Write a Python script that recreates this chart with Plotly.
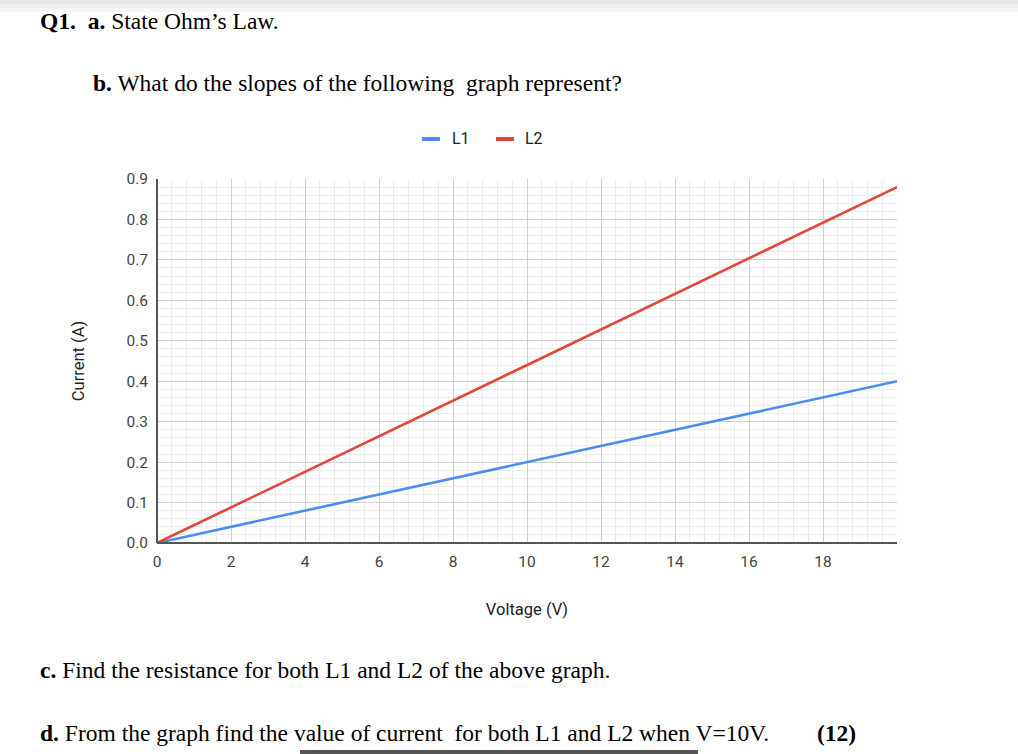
import plotly.graph_objects as go

voltage = [0, 2, 4, 6, 8, 10, 12, 14, 16, 18, 20]
current_l1 = [0, 0.04, 0.08, 0.12, 0.16, 0.20, 0.24, 0.28, 0.32, 0.36, 0.40]
current_l2 = [0, 0.088, 0.176, 0.264, 0.352, 0.44, 0.528, 0.616, 0.704, 0.792, 0.88]
x_ticks = [0, 2, 4, 6, 8, 10, 12, 14, 16, 18]
y_ticks = [0.0, 0.1, 0.2, 0.3, 0.4, 0.5, 0.6, 0.7, 0.8, 0.9]
y_tick_text = ["0.0", "0.1", "0.2", "0.3", "0.4", "0.5", "0.6", "0.7", "0.8", "0.9"]

BLUE = "#4a8df0"
RED = "#e2473a"
W, H = 1018, 754

fig = go.Figure()
fig.add_trace(go.Scatter(x=voltage, y=current_l1, mode="lines", name="L1",
                         line=dict(color=BLUE, width=2.6), showlegend=False))
fig.add_trace(go.Scatter(x=voltage, y=current_l2, mode="lines", name="L2",
                         line=dict(color=RED, width=2.6), showlegend=False))

sans = "Roboto, Arial, sans-serif"
axis_font = dict(family=sans, size=15.5, color="#444444")

fig.update_layout(
    width=W, height=H,
    margin=dict(l=157, r=121, t=179, b=211),
    paper_bgcolor="white", plot_bgcolor="white",
    xaxis=dict(range=[0, 20], tickvals=x_ticks, ticktext=[str(v) for v in x_ticks],
               showgrid=True, gridcolor="#cfcfcf", gridwidth=1,
               minor=dict(dtick=0.4, tick0=0, showgrid=True, gridcolor="#ececec", gridwidth=1),
               zeroline=False, showline=False, ticks="", tickfont=axis_font, ticklabelstandoff=7,
               title=dict(text="Voltage (V)", font=dict(family=sans, size=16.5, color="#222222"),
                          standoff=33)),
    yaxis=dict(range=[0, 0.9], tickvals=y_ticks, ticktext=y_tick_text,
               showgrid=True, gridcolor="#cfcfcf", gridwidth=1,
               minor=dict(dtick=0.02, tick0=0, showgrid=True, gridcolor="#ececec", gridwidth=1),
               zeroline=False, showline=False, ticks="", tickfont=axis_font, ticklabelstandoff=8,
               title=dict(text="Current (A)", font=dict(family=sans, size=16.5, color="#222222"),
                          standoff=37)),
    showlegend=False,
)

shapes = []
shapes.append(dict(type="line", xref="paper", yref="paper", x0=0, x1=0, y0=0, y1=1,
                   line=dict(color="#555555", width=2)))
shapes.append(dict(type="line", xref="paper", yref="paper", x0=0, x1=1, y0=0, y1=0,
                   line=dict(color="#555555", width=2)))

def px_x(p):
    return (p - 157) / (W - 157 - 121)

def px_y(p):
    return (H - 211 - p) / (H - 179 - 211)

# legend dashes
shapes.append(dict(type="line", xref="paper", yref="paper", x0=px_x(422), x1=px_x(440),
                   y0=px_y(139), y1=px_y(139), line=dict(color=BLUE, width=4)))
shapes.append(dict(type="line", xref="paper", yref="paper", x0=px_x(496), x1=px_x(514),
                   y0=px_y(139), y1=px_y(139), line=dict(color=RED, width=4)))
# top gray gradient band
for y0, y1, c in [(0, 4, "#e6e6e6"), (4, 8, "#eeeeee"), (8, 12, "#f6f6f6")]:
    shapes.append(dict(type="rect", xref="paper", yref="paper", x0=px_x(0), x1=px_x(W),
                       y0=px_y(y0), y1=px_y(y1), fillcolor=c, line=dict(width=0), layer="below"))
# bottom dark bar
shapes.append(dict(type="rect", xref="paper", yref="paper", x0=px_x(300), x1=px_x(698),
                   y0=px_y(750), y1=px_y(754), fillcolor="#555555", line=dict(width=0)))
fig.update_layout(shapes=shapes)

serif = "Liberation Serif, Times New Roman, serif"
ann = []
def text(x, y, s, size=23.5, anchor="left", font=serif, color="black"):
    ann.append(dict(x=px_x(x), y=px_y(y), xref="paper", yref="paper", text=s, showarrow=False,
                    xanchor=anchor, yanchor="middle", font=dict(family=font, size=size, color=color)))

text(38, 21, "<b>Q1.</b>  <b>a.</b> State Ohm\u2019s Law.")
text(91, 83, "<b>b.</b> What do the slopes of the following  graph represent?")
text(38, 670, "<b>c.</b> Find the resistance for both L1 and L2 of the above graph.")
text(38, 733, "<b>d.</b> From the graph find the value of current  for both L1 and L2 when V=10V.")
text(815, 733, "<b>(12)</b>")
text(450, 139, "L1", size=16, font=sans, color="#222222")
text(523, 139, "L2", size=16, font=sans, color="#222222")
fig.update_layout(annotations=ann)

fig.write_html("out.html")
